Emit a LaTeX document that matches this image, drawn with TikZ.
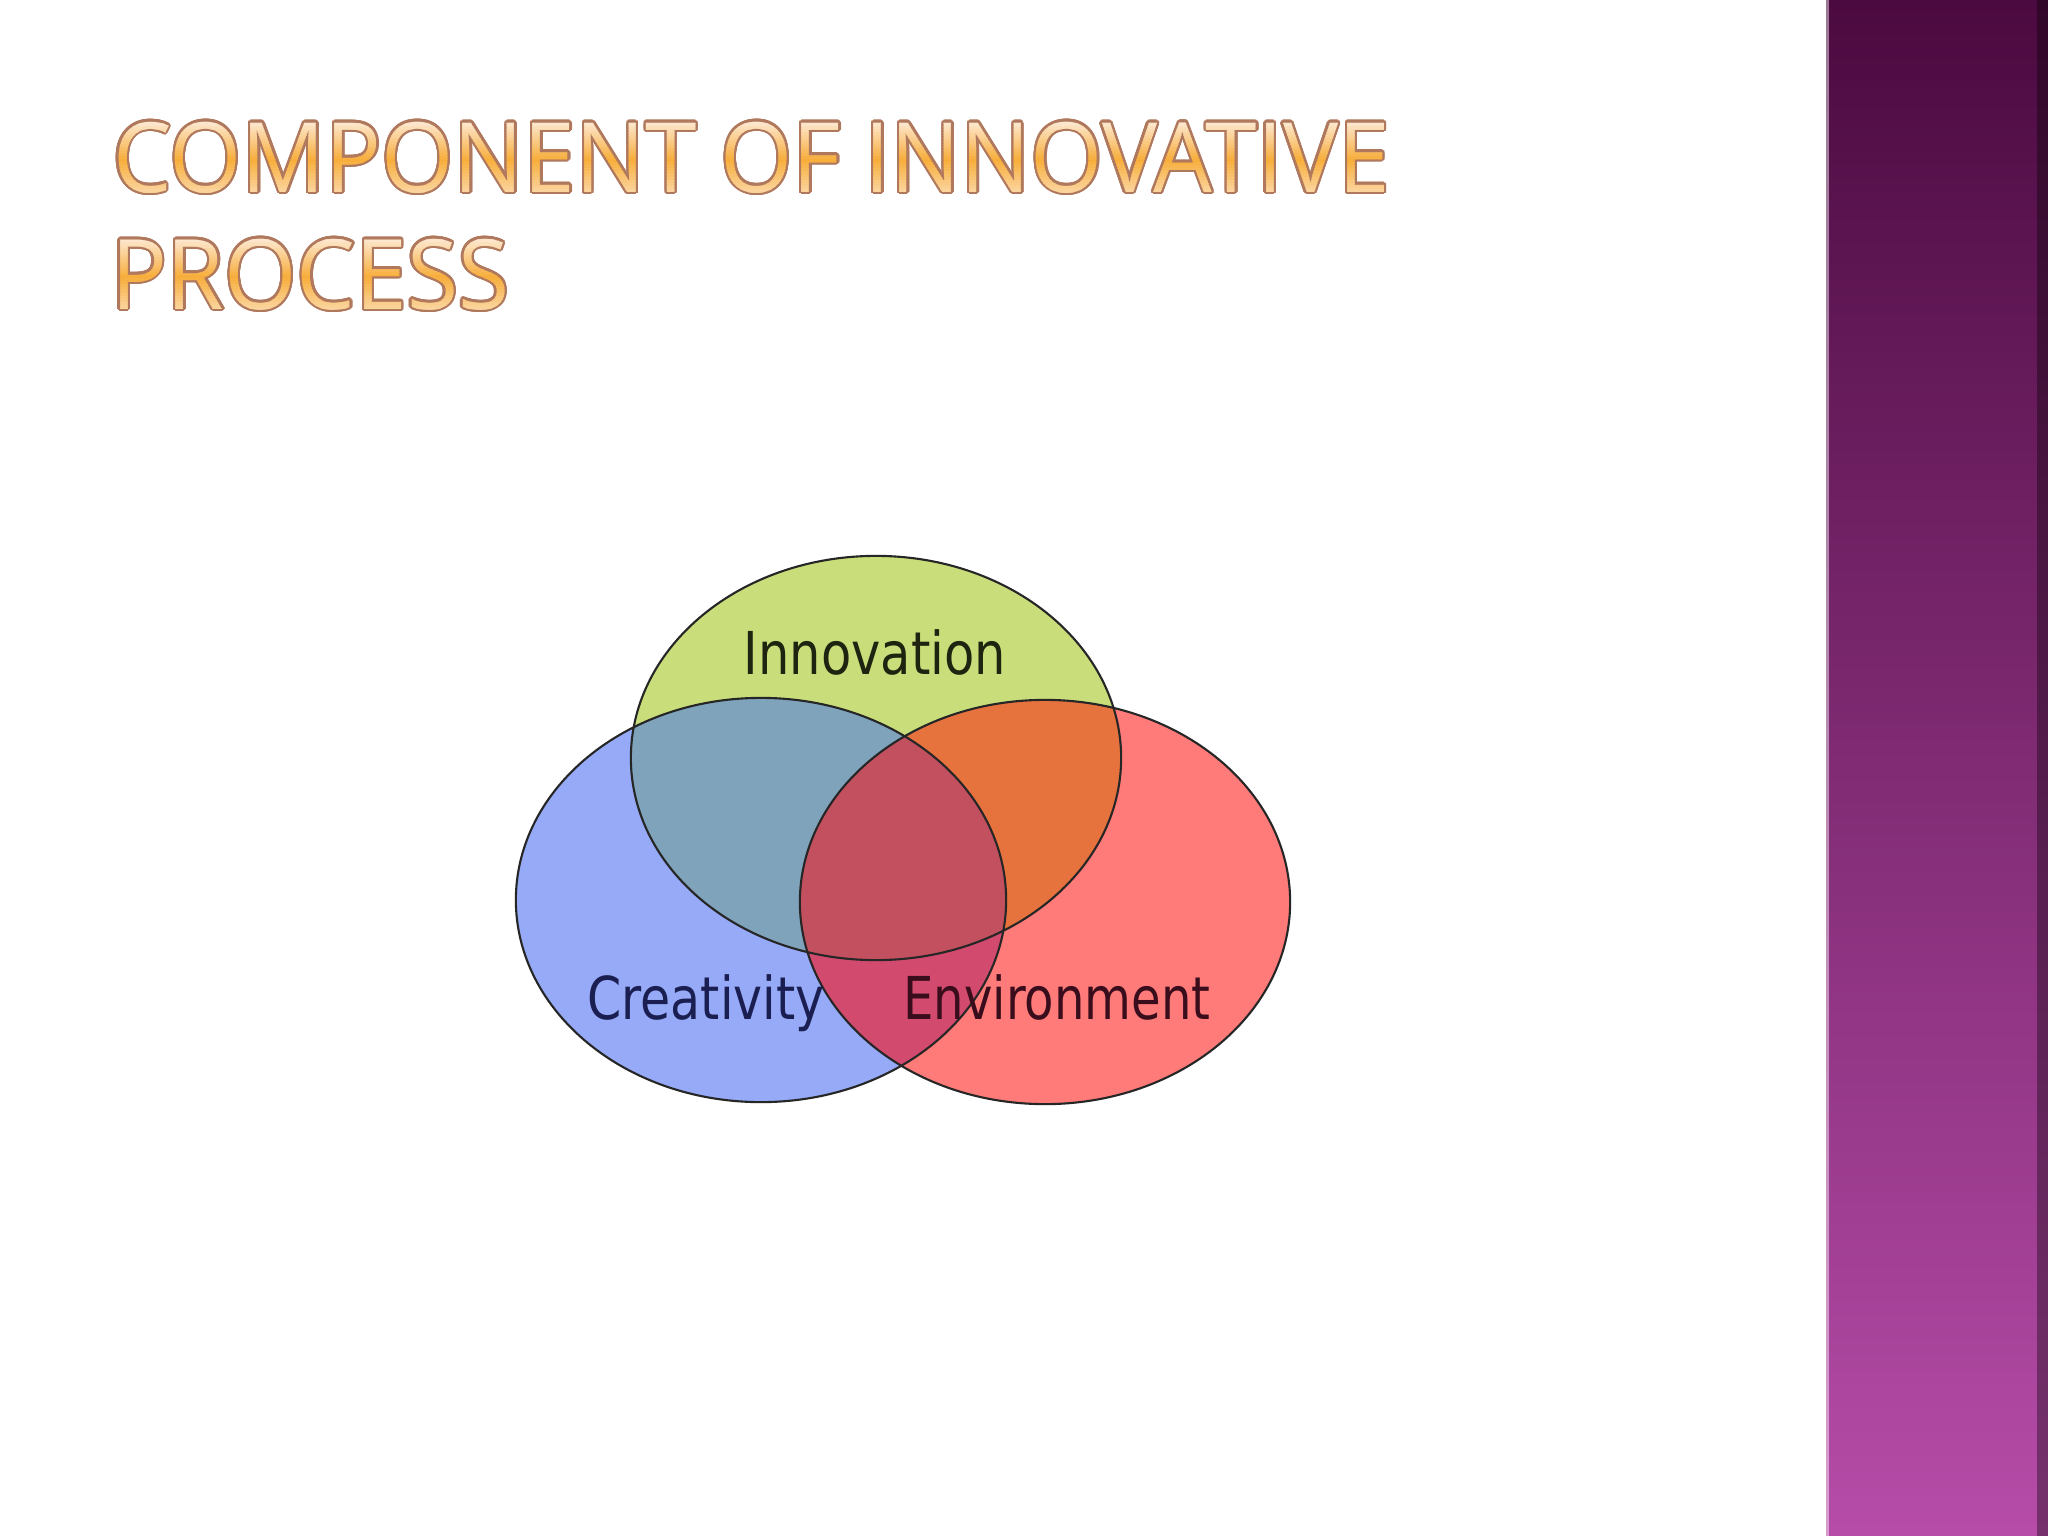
\documentclass[tikz,border=0pt]{standalone}
\usepackage{fontspec}
\usepackage{graphicx}
\usepackage[copies]{contour}
\usetikzlibrary{shapes.geometric}
\setmainfont{Open Sans}
\newfontfamily\titlefont{Open Sans}
\newfontfamily\vennfont{DejaVu Sans}
\definecolor{barTop}{HTML}{4B0A40}
\definecolor{barMid}{HTML}{8A3479}
\definecolor{barBot}{HTML}{B64CA8}
\definecolor{tPale}{HTML}{FDEAD4}
\definecolor{tOrange}{HTML}{F7AD3A}
\definecolor{tEdge}{HTML}{B0785C}
\definecolor{cBlue}{HTML}{96AAF7}
\definecolor{cRed}{HTML}{FE7B79}
\definecolor{cGreen}{HTML}{C9DE7A}
\definecolor{cGB}{HTML}{7EA3BA}
\definecolor{cGR}{HTML}{E6723D}
\definecolor{cBR}{HTML}{D24A6E}
\definecolor{cAll}{HTML}{C3505F}
\definecolor{lInno}{HTML}{1E2410}
\definecolor{lCrea}{HTML}{1A1E50}
\definecolor{lEnv}{HTML}{3A0D1C}
\protected\def\ttlA{\resizebox{12.76cm}{\height}{\fontsize{27.6}{32}\titlefont COMPONENT OF INNOVATIVE}}
\protected\def\ttlB{\resizebox{3.98cm}{\height}{\fontsize{27.6}{32}\titlefont PROCESS}}
\contourlength{0.65pt}
\contournumber{24}
\begin{document}
\begin{tikzpicture}[x=0.01cm,y=-0.01cm,
  titlebox/.style={inner sep=0pt, outer sep=0pt, anchor=base west},
  vennline/.style={ellipse, draw=black!85, line width=0.6pt, inner sep=0pt,
     minimum width=4.9cm, minimum height=4.04cm},
  vlabel/.style={inner sep=0pt, anchor=base, font=\fontsize{16.8}{20}\vennfont}]
\useasboundingbox (0,0) rectangle (2048,1536);
\fill[white] (0,0) rectangle (2048,1536);
% purple side bar
\shade[top color=barTop, middle color=barMid, bottom color=barBot] (1826,0) rectangle (2048,1536);
\fill[black, opacity=0.35] (2037,0) rectangle (2048,1536);
\fill[white, opacity=0.45] (1826,0) rectangle (1829,1536);
% title: outline
\node[titlebox, text=tEdge] (ta) at (113,192) {\contour{tEdge}{\ttlA}};
\node[titlebox, text=tEdge] (tb) at (111,309) {\contour{tEdge}{\ttlB}};
% title: gradient fill by stripes
\foreach \k in {0,...,27}{
  \pgfmathsetmacro\ya{114+3*\k}
  \pgfmathsetmacro\yb{\ya+3.3}
  \pgfmathsetmacro\tt{(\ya+1.5-121)/71}
  \pgfmathtruncatemacro\w{\tt<0.55 ? max(0,min(100,100*\tt/0.55)) : max(35,100-65*(\tt-0.55)/0.45)}
  \begin{scope}
    \clip (90,\ya) rectangle (1420,\yb);
    \node[titlebox, text={tOrange!\w!tPale}] (tas\k) at (113,192) {\ttlA};
  \end{scope}
  \pgfmathsetmacro\yc{230+3*\k}
  \pgfmathsetmacro\yd{\yc+3.3}
  \pgfmathsetmacro\uu{(\yc+1.5-238)/71}
  \pgfmathtruncatemacro\v{\uu<0.55 ? max(0,min(100,100*\uu/0.55)) : max(35,100-65*(\uu-0.55)/0.45)}
  \begin{scope}
    \clip (90,\yc) rectangle (600,\yd);
    \node[titlebox, text={tOrange!\v!tPale}] (tbs\k) at (111,309) {\ttlB};
  \end{scope}
}
% Venn fills
\def\EG{(876,758) ellipse [x radius=2.45cm, y radius=2.02cm]}
\def\EB{(761,900) ellipse [x radius=2.45cm, y radius=2.02cm]}
\def\ER{(1045,902) ellipse [x radius=2.45cm, y radius=2.02cm]}
\fill[cBlue] \EB;
\fill[cRed] \ER;
\fill[cGreen] \EG;
\begin{scope}
  \clip \EB;
  \fill[cBR] \ER;
\end{scope}
\begin{scope}
  \clip \EG;
  \fill[cGB] \EB;
  \fill[cGR] \ER;
\end{scope}
\begin{scope}
  \clip \EG;
  \clip \EB;
  \fill[cAll] \ER;
\end{scope}
% Venn outlines
\node[vennline] (inno) at (876,758) {};
\node[vennline] (crea) at (761,900) {};
\node[vennline] (env) at (1045,902) {};
% labels
\node[vlabel, text=lInno] (linno) at (875,674) {\resizebox{2.62cm}{\height}{Innovation}};
\node[vlabel, text=lCrea] (lcrea) at (706,1019) {\resizebox{2.37cm}{\height}{Creativity}};
\node[vlabel, text=lEnv] (lenv) at (1057,1019) {\resizebox{3.07cm}{\height}{Environment}};
\end{tikzpicture}
\end{document}
